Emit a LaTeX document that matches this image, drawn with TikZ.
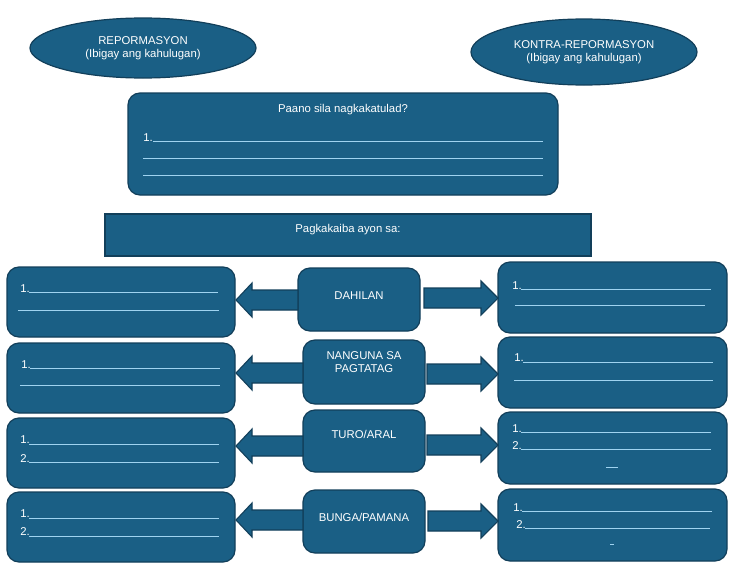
\documentclass[tikz,border=0pt]{standalone}
\usepackage{fontspec}
\setmainfont{Liberation Sans}
\begin{document}
\begin{tikzpicture}[x=0.75pt,y=-0.75pt,
 box/.style={fill=boxc,draw=edgec,line width=0.9pt,rounded corners=9pt},
 txt/.style={text=white,font=\fontsize{8.5}{10}\selectfont,align=center,inner sep=0},
 num/.style={text=white,font=\fontsize{8.5}{10}\selectfont,anchor=south west,inner sep=0},
 ln/.style={draw=linec,line width=0.6pt},
 arr/.style={fill=boxc,draw=edgec,line width=0.8pt}]
\definecolor{boxc}{HTML}{1A5F85}
\definecolor{edgec}{HTML}{123F5A}
\definecolor{linec}{HTML}{9FD3F0}
\useasboundingbox (0,0) rectangle (743,582);
% ellipses
\draw[fill=boxc,draw=edgec,line width=0.9pt] (143,48) ellipse [x radius=113,y radius=30];
\node[txt] (e1) at (143,48) {REPORMASYON\\(Ibigay ang kahulugan)};
\draw[fill=boxc,draw=edgec,line width=0.9pt] (584,52) ellipse [x radius=113,y radius=33];
\node[txt] (e2) at (584,52) {KONTRA-REPORMASYON\\(Ibigay ang kahulugan)};
% top box
\draw[box] (128,93) rectangle (558,195);
\node[txt] (q) at (343,110) {Paano sila nagkakatulad?};
\node[num] (q1) at (143,142) {1.};
\draw[ln] (153,141) -- (543,141);
\draw[ln] (143,158) -- (543,158);
\draw[ln] (143,175) -- (543,175);
% banner
\draw[fill=boxc,draw=edgec,line width=0.9pt] (105,214) rectangle (591,256);
\node[txt] (b) at (348,230) {Pagkakaiba ayon sa:};
% left boxes
\foreach \t/\b in {267/337,343/413,418/488,492/562}{\draw[box] (7,\t) rectangle (235,\b);}
% right boxes
\foreach \t/\b in {262/333,337/408,412/484,489/561}{\draw[box] (498,\t) rectangle (727,\b);}
% middle boxes
\draw[box] (298,268) rectangle (420,331); \node[txt] (m1) at (359,296) {DAHILAN};
\draw[box] (303,340) rectangle (425,404); \node[txt] (m2) at (364,362) {NANGUNA SA\\PAGTATAG};
\draw[box] (303,410) rectangle (425,472); \node[txt] (m3) at (364,434) {TURO/ARAL};
\draw[box] (303,490) rectangle (425,553); \node[txt] (m4) at (364,517) {BUNGA/PAMANA};
% arrows
\foreach \y/\xs in {300/298,373/303,446/303,520/303}{
 \draw[arr] (\xs,\y-10) -- (252,\y-10) -- (252,\y-17) -- (236,\y) -- (252,\y+17) -- (252,\y+10) -- (\xs,\y+10) -- cycle;}
\foreach \y/\xs in {298/424,374/427,445/427,521/428}{
 \draw[arr] (\xs,\y-10) -- (481,\y-10) -- (481,\y-17) -- (498,\y) -- (481,\y+17) -- (481,\y+10) -- (\xs,\y+10) -- cycle;}
% left texts
\node[num] (l1) at (20,293) {1.}; \draw[ln] (29,292) -- (218,292); \draw[ln] (18,310) -- (219,310);
\node[num] (l2) at (21,369) {1.}; \draw[ln] (30,368) -- (220,368); \draw[ln] (20,385) -- (220,385);
\node[num] (l3a) at (20,444) {1.}; \draw[ln] (29,444) -- (219,444);
\node[num] (l3b) at (20,463) {2.}; \draw[ln] (29,462) -- (219,462);
\node[num] (l4a) at (20,518) {1.}; \draw[ln] (29,518) -- (219,518);
\node[num] (l4b) at (20,536) {2.}; \draw[ln] (29,536) -- (219,536);
% right texts
\node[num] (r1) at (512,290) {1.}; \draw[ln] (521,289) -- (711,289); \draw[ln] (515,305) -- (705,305);
\node[num] (r2) at (514,362) {1.}; \draw[ln] (523,362) -- (713,362); \draw[ln] (514,380) -- (713,380);
\node[num] (r3a) at (512,433) {1.}; \draw[ln] (521,432) -- (711,432);
\node[num] (r3b) at (512,450) {2.}; \draw[ln] (521,449) -- (711,449);
\draw[ln] (606,467) -- (618,467);
\node[num] (r4a) at (513,512) {1.}; \draw[ln] (522,511) -- (712,511);
\node[num] (r4b) at (516,529) {2.}; \draw[ln] (525,528) -- (710,528);
\draw[ln] (610,544) -- (614,544);
\end{tikzpicture}
\end{document}
